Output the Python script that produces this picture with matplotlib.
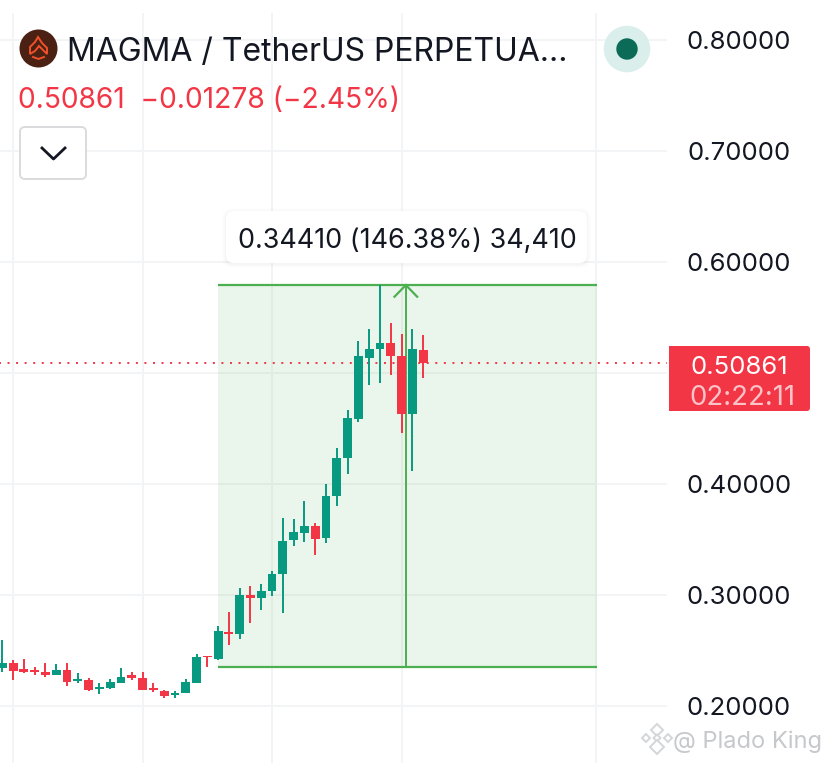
import numpy as np
import matplotlib
matplotlib.use("Agg")
import matplotlib.pyplot as plt
from matplotlib.patches import FancyBboxPatch, Rectangle, Circle, Polygon

opens = [.2340, .2391, .2331, .2325, .2304, .2280, .2325, .2229, .2235, .2157,
         .2163, .2211, .2277, .2253, .2160, .2139, .2097, .2118, .2211, .2454,
         .2423, .2667, .2646, .2997, .2970, .3033, .3186, .3492, .3561, .3621,
         .3514, .3892, .4231, .4586, .5138, .5216, .5270, .5150, .4631, .5207]
closes = [.2391, .2319, .2310, .2307, .2283, .2325, .2217, .2244, .2145, .2175,
          .2214, .2265, .2253, .2147, .2142, .2094, .2118, .2214, .2445, .2439,
          .2672, .2646, .3000, .2973, .3039, .3189, .3489, .3567, .3624, .3507,
          .3892, .4237, .4595, .5150, .5219, .5270, .5153, .4634, .5213, .5086]
highs = [.2595, .2415, .2424, .2355, .2385, .2376, .2385, .2295, .2253, .2205,
         .2241, .2340, .2304, .2304, .2205, .2145, .2139, .2241, .2466, .2454,
         .2720, .2850, .3060, .3081, .3096, .3213, .3690, .3681, .3847, .3645,
         .4000, .4327, .4667, .5291, .5399, .5793, .5451, .5348, .5393, .5342]
lows = [.2310, .2235, .2295, .2280, .2259, .2280, .2181, .2211, .2139, .2109,
        .2151, .2211, .2235, .2145, .2127, .2070, .2070, .2115, .2211, .2355,
        .2414, .2549, .2606, .2751, .2865, .2991, .2835, .3441, .3480, .3360,
        .3471, .3805, .4090, .4559, .4889, .4913, .4985, .4457, .4117, .4958]

price_ticks = [0.2, 0.3, 0.4, 0.5, 0.6, 0.7, 0.8]
label_ticks = [0.2, 0.3, 0.4, 0.6, 0.7, 0.8]
time_grid = [1, 13, 25, 37, 55]

long_start = 20
long_end = 55.1
long_mid = 37.4
long_bottom = 0.2351
long_top = 0.5792
last_price = 0.50861

title = "MAGMA / TetherUS PERPETUA..."
change = "0.50861  \u22120.01278 (\u22122.45%)"
measure = "0.34410 (146.38%) 34,410"
countdown = "02:22:11"
watermark = "@ Plado King"

GREEN = "#089981"
RED = "#F23645"
LINE = "#4CAF50"
GRID = "#F3F4F5"

plt.rcParams["font.family"] = ["Inter", "DejaVu Sans"]

fig = plt.figure(figsize=(8.29, 7.63), dpi=100, facecolor="white")

# candles live in price / bar-index coordinates
ax = fig.add_axes([0, 0, 1, 1])
ax.set_xlim(-0.213, 76.62)
ax.set_ylim(0.14865, 0.8360)
ax.axis("off")

grid_right = (667 + 2.3) / 10.79 - 0.426
ax.hlines(price_ticks, -1, grid_right, color=GRID, lw=1.4, zorder=1)
ax.vlines(time_grid, 0.14865, 0.824, color=GRID, lw=1.4, zorder=1)

ax.add_patch(Rectangle((long_start, long_bottom), long_end - long_start,
                       long_top - long_bottom, facecolor="#4CAF50", alpha=0.115,
                       edgecolor="none", zorder=2))
ax.hlines([long_bottom, long_top], long_start, long_end, color=LINE, lw=1.6, zorder=3)
ax.vlines(long_mid, long_bottom, long_top, color=LINE, lw=1.4, zorder=3)
ax.plot([long_mid - 1.05, long_mid, long_mid + 1.05],
        [long_top - 0.0105, long_top, long_top - 0.0105],
        color=LINE, lw=1.6, zorder=3, solid_joinstyle="miter")

ax.hlines(last_price, -1, grid_right, color=RED, lw=1.4,
          linestyles=[(0, (1, 3.4))], zorder=4)

x = np.arange(len(opens))
colors = [GREEN if c >= o else RED for o, c in zip(opens, closes)]
bottoms = [min(o, c) for o, c in zip(opens, closes)]
heights = [max(abs(c - o), 0.0015) for o, c in zip(opens, closes)]
ax.vlines(x, lows, highs, colors=colors, lw=1.4, zorder=5)
ax.bar(x, heights, bottom=bottoms, width=0.82, color=colors, zorder=6)

# everything else is app chrome, placed in screen pixels
ui = fig.add_axes([0, 0, 1, 1])
ui.set_xlim(0, 829)
ui.set_ylim(763, 0)
ui.axis("off")
ui.patch.set_alpha(0)

for t in label_ticks:
    ui.text(739, 706 - (t - 0.2) * 1110, "%.5f" % t, ha="center", va="center_baseline",
            fontsize=18.5, color="#131722")

# header
ui.add_patch(Circle((38.5, 48.5), 19, facecolor="#4A2112", edgecolor="none", zorder=7))
flame = [(30, 54), (30, 47), (35, 42), (38, 37), (42, 43), (47, 48), (47, 54), (43, 50),
         (39, 46), (35, 51)]
ui.add_patch(Polygon(flame, closed=True, fill=False, edgecolor="#F0512B", lw=1.4, zorder=8))
ui.plot([33, 38.5, 44], [57, 59, 57], color="#F0512B", lw=1.4, zorder=8)
ui.text(67, 49, title, ha="left", va="center_baseline", fontsize=23, color="#131722", zorder=8)
ui.text(18, 98, change, ha="left", va="center_baseline", fontsize=20.3, color=RED, zorder=8)

ui.add_patch(FancyBboxPatch((24, 131), 58, 44, boxstyle="round,pad=4,rounding_size=5",
                            facecolor="white", edgecolor="#DADBDD", lw=1.4, zorder=8))
ui.plot([42, 53.5, 65], [148, 159, 148], color="#131722", lw=2, zorder=9)

ui.add_patch(Circle((627, 49), 23.3, facecolor="#DAEFEC", edgecolor="none", zorder=8))
ui.add_patch(Circle((627, 49), 10.7, facecolor="#0B6B57", edgecolor="none", zorder=9))

# measure tooltip
for grow, a in [(4, 0.008), (2.5, 0.012), (1.2, 0.018)]:
    ui.add_patch(FancyBboxPatch((234, 220), 345, 36, boxstyle="round,pad=%g,rounding_size=9" % (8 + grow),
                                facecolor="black", alpha=a, edgecolor="none", zorder=8))
ui.add_patch(FancyBboxPatch((234, 219), 345, 36, boxstyle="round,pad=8,rounding_size=8",
                            facecolor="white", edgecolor="none", zorder=9))
ui.text(407, 238, measure, ha="center", va="center_baseline", fontsize=19.4, color="#131722", zorder=10)

# last price tag
ui.add_patch(FancyBboxPatch((672, 349), 135, 59, boxstyle="round,pad=3,rounding_size=3",
                            facecolor=RED, edgecolor="none", zorder=8))
ui.add_patch(Rectangle((669, 346), 10, 65, facecolor=RED, edgecolor="none", zorder=8))
ui.text(739, 365, "%.5f" % last_price, ha="center", va="center_baseline", fontsize=18.5,
        color="white", zorder=9)
ui.text(742.5, 395, countdown, ha="center", va="center_baseline", fontsize=19.8,
        color="white", alpha=0.7, zorder=9)

# watermark
for cx, cy, r in [(657, 730, 6), (646, 738, 4), (668, 738, 4), (657, 738, 3.5), (657, 747, 7)]:
    ui.add_patch(Polygon([(cx - r, cy), (cx, cy - r), (cx + r, cy), (cx, cy + r)], closed=True,
                         facecolor="white", edgecolor="#D4D6D9", lw=1.4, zorder=8))
ui.text(748, 739, watermark, ha="center", va="center_baseline", fontsize=17,
        color="#C6C8CB", zorder=8)

fig.savefig("out.png", dpi=100)
